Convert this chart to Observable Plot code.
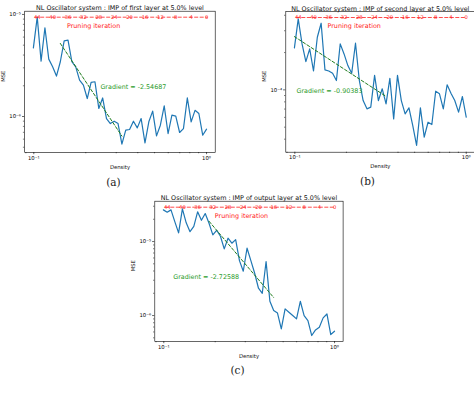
<!DOCTYPE html>
<html><head><meta charset="utf-8">
<script src="https://cdn.jsdelivr.net/npm/d3@7"></script>
<script src="https://cdn.jsdelivr.net/npm/@observablehq/plot@0.6"></script>
<style>
html,body{margin:0;padding:0;background:#fff;}
#root{position:relative;width:474px;height:393px;overflow:hidden;background:#fff;}
.panel{position:absolute;}
</style></head><body><div id="root"></div>
<script>
// ---- data ----
const pruneRate = 0.05;
const iterations = [45,44,43,42,41,40,39,38,37,36,35,34,33,32,31,30,29,28,27,26,25,24,23,22,21,20,19,18,17,16,15,14,13,12,11,10,9,8,7,6,5,4,3,2,1,0];
const pruneTicks = [44,40,36,32,28,24,20,16,12,8,4,0];

const titleA = "NL Oscillator system : IMP of first layer at 5.0% level";
const titleB = "NL Oscillator system : IMP of second layer at 5.0% level";
const titleC = "NL Oscillator system : IMP of output layer at 5.0% level";

const mseA = [4.71e-6,9.42e-6,3.49e-6,7.40e-6,3.65e-6,3.07e-6,2.49e-6,3.44e-6,5.52e-6,5.60e-6,
  3.44e-6,3.07e-6,2.27e-6,2.03e-6,1.50e-6,2.16e-6,2.19e-6,1.20e-6,1.52e-6,9.55e-7,
  8.53e-7,9.0e-7,8.53e-7,5.36e-7,7.35e-7,7.46e-7,9.0e-7,7.74e-7,9.55e-7,5.52e-7,
  8.87e-7,1.13e-6,6.46e-7,8.22e-7,1.27e-6,6.81e-7,1.03e-6,1.01e-6,6.97e-7,7.62e-7,
  1.52e-6,8.87e-7,1.15e-6,1.07e-6,6.56e-7,7.52e-7];
const mseB = [2.18e-4,3.74e-4,2.35e-4,1.69e-4,2.14e-4,1.42e-4,2.66e-4,3.45e-4,1.45e-4,1.42e-4,
  1.36e-4,1.19e-4,2.35e-4,1.95e-4,1.57e-4,1.36e-4,2.38e-4,1.19e-4,8.20e-5,7.03e-5,
  7.25e-5,1.31e-4,8.20e-5,1.02e-4,7.71e-5,1.24e-4,5.83e-5,1.31e-4,8.20e-5,6.40e-5,
  7.16e-5,5.15e-5,3.56e-5,7.16e-5,4.15e-5,5.48e-5,5.25e-5,9.75e-5,9.29e-5,7.03e-5,
  1.10e-4,9.40e-5,8.20e-5,6.61e-5,8.84e-5,6.02e-5];
const mseC = [2.68e-5,2.49e-5,2.68e-5,1.86e-5,1.31e-5,2.76e-5,1.79e-5,1.36e-5,1.60e-5,2.52e-5,
  1.94e-5,2.39e-5,1.77e-5,1.23e-5,1.42e-5,1.18e-5,7.96e-6,1.11e-5,9.49e-6,1.06e-5,
  5.53e-6,3.97e-6,8.13e-6,5.53e-6,3.73e-6,2.34e-6,2.00e-6,5.37e-6,1.56e-6,1.17e-6,
  1.08e-6,6.61e-7,1.23e-6,1.11e-6,1.0e-6,9.02e-7,1.56e-6,1.0e-6,8.56e-7,5.37e-7,
  6.40e-7,6.95e-7,9.30e-7,1.05e-6,5.54e-7,6.14e-7];

// fitted lines (pruning iteration endpoints, MSE endpoints)
const fitIterA = [38, 22], fitMseA = [5.20e-6, 6.43e-7];
const fitIterB = [45, 21], fitMseB = [2.69e-4, 8.85e-5];
const fitIterC = [33, 16], fitMseC = [1.88e-5, 1.75e-6];
const gradientA = "-2.54687", gradientB = "-0.90383", gradientC = "-2.72588";
// gradient annotation anchor (density, MSE)
const gradPosA = [0.243, 1.97e-6], gradPosB = [0.1023, 9.75e-5], gradPosC = [0.1135, 3.30e-6];
const pruneLabelPos = [0.222, 0.222, 0.285];

const xTicks = [0.1, 1], xTickLabels = ["10\u207B\u00B9", "10\u2070"];
const yTicksA = [1e-6, 1e-5], yTickLabelsA = ["10\u207B\u2076", "10\u207B\u2075"];
const yTicksB = [1e-4], yTickLabelsB = ["10\u207B\u2074"];
const yTicksC = [1e-6, 1e-5], yTickLabelsC = ["10\u207B\u2076", "10\u207B\u2075"];
const xDomain = [0.08857, 1.1222];
const yDomainA = [4.44e-7, 1.076e-5], yDomainB = [3.14e-5, 4.29e-4], yDomainC = [4.46e-7, 3.51e-5];

function minors(domain) {
  const out = [];
  for (let e = -8; e <= 1; e++) for (let m = 2; m <= 9; m++) {
    const v = m * Math.pow(10, e);
    if (v >= domain[0] && v <= domain[1]) out.push(v);
  }
  return out;
}

function panel(o) {
  const dens = it => Math.pow(1 - pruneRate, it);
  const rows = iterations.map((it, j) => ({d: dens(it), m: o.mse[j]}));
  const fitRows = o.fitIter.map((it, j) => ({d: dens(it), m: o.fitMse[j]}));
  const labRows = pruneTicks.map(t => ({d: dens(t), t: String(t)}));
  const fs = 5.3, big = 6.4;
  const svg = Plot.plot({
    width: o.w, height: o.h,
    marginLeft: o.ml, marginRight: o.mr, marginTop: o.mt, marginBottom: o.mb,
    x: {type: "log", domain: xDomain, label: null},
    y: {type: "log", domain: o.yDomain, label: null},
    style: {background: "transparent", overflow: "visible", maxWidth: "none", fontFamily: "'DejaVu Sans', sans-serif", color: "#000"},
    marks: [
      Plot.axisX({ticks: xTicks, tickFormat: d => xTickLabels[xTicks.indexOf(d)], tickSize: 2.2, tickPadding: 1.3, fontSize: fs, strokeWidth: 0.6, label: null}),
      Plot.axisX({ticks: minors(xDomain), tickFormat: () => "", tickSize: 1.3, strokeWidth: 0.5, label: null}),
      Plot.axisY({ticks: o.yTicks, tickFormat: d => o.yLabels[o.yTicks.indexOf(d)], tickSize: 2.2, tickPadding: 1.5, fontSize: fs, strokeWidth: 0.6, label: null}),
      Plot.axisY({ticks: minors(o.yDomain), tickFormat: () => "", tickSize: 1.3, strokeWidth: 0.5, label: null}),
      Plot.line(rows, {x: "d", y: "m", stroke: "#1f77b4", strokeWidth: 1.2}),
      Plot.line(fitRows, {x: "d", y: "m", stroke: "#1e7d1e", strokeWidth: 1, strokeDasharray: "3,2"}),
      Plot.frame({anchor: "top", insetTop: 6, insetLeft: o.dashL, insetRight: 8, stroke: "#ff2020", strokeWidth: 0.8, strokeDasharray: "3,2.5"}),
      Plot.text(labRows, {x: "d", text: "t", frameAnchor: "top", dy: 3.6, fill: "#ff2020", fontSize: 5.2}),
      Plot.text([o.pruneX], {x: d => d, text: () => "Pruning iteration", frameAnchor: "top", dy: 11.8, fill: "#ff2020", fontSize: big}),
      Plot.text([o.gradPos], {x: d => d[0], y: d => d[1], text: () => "Gradient = " + o.gradient, textAnchor: "start", fill: "#2a9a2a", fontSize: big}),
      Plot.frame({stroke: "#000", strokeWidth: 0.6}),
      Plot.text([o.title], {frameAnchor: "top", dy: -5.5, fontSize: big, fill: "#111"}),
      Plot.text(["Density"], {frameAnchor: "bottom", dy: 16, fontSize: fs, fill: "#111"}),
      Plot.text(["MSE"], {frameAnchor: "left", dx: -21.5, rotate: -90, fontSize: fs, fill: "#111"}),
      Plot.text([o.caption], {frameAnchor: "bottom", dy: o.capDy, dx: o.capDx, fontSize: 10.5, fontFamily: "'DejaVu Serif', serif", fill: "#222"})
    ]
  });
  const div = document.createElement("div");
  div.className = "panel";
  div.style.left = o.left + "px"; div.style.top = o.top + "px";
  div.style.width = o.w + "px"; div.style.height = o.h + "px";
  div.appendChild(svg);
  document.getElementById("root").appendChild(div);
}

panel({left: 0, top: 0, w: 240, h: 195, ml: 24.2, mr: 25.3, mt: 10.7, mb: 43,
  mse: mseA, fitIter: fitIterA, fitMse: fitMseA, gradient: gradientA, gradPos: gradPosA,
  yDomain: yDomainA, yTicks: yTicksA, yLabels: yTickLabelsA, title: titleA, caption: "(a)",
  pruneX: pruneLabelPos[0], dashL: 10.5, capDy: 33, capDx: -6.5});
panel({left: 240, top: 0, w: 240, h: 195, ml: 45.3, mr: 5.7, mt: 11, mb: 43.3,
  mse: mseB, fitIter: fitIterB, fitMse: fitMseB, gradient: gradientB, gradPos: gradPosB,
  yDomain: yDomainB, yTicks: yTicksB, yLabels: yTickLabelsB, title: titleB, caption: "(b)",
  pruneX: pruneLabelPos[1], dashL: 10.5, capDy: 33, capDx: -12.8});
panel({left: 120, top: 185, w: 240, h: 208, ml: 34.3, mr: 17.4, mt: 15.7, mb: 52,
  mse: mseC, fitIter: fitIterC, fitMse: fitMseC, gradient: gradientC, gradPos: gradPosC,
  yDomain: yDomainC, yTicks: yTicksC, yLabels: yTickLabelsC, title: titleC, caption: "(c)",
  pruneX: pruneLabelPos[2], dashL: 10.5, capDy: 32.3, capDx: -11.5});
</script></body></html>
